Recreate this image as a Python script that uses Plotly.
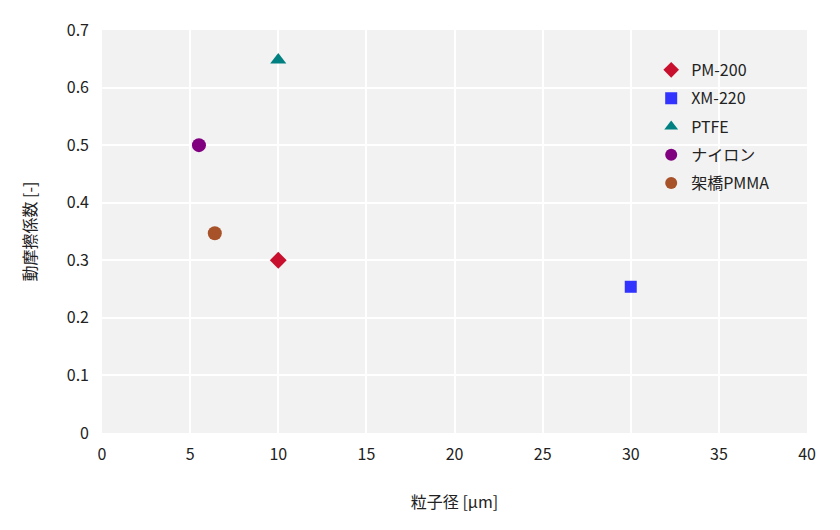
import plotly.graph_objects as go

names = ["PM-200", "XM-220", "PTFE", "ナイロン", "架橋PMMA"]
x_vals = [10, 30, 10, 5.5, 6.4]
y_vals = [0.3, 0.254, 0.648, 0.5, 0.347]
symbols = ["diamond", "square", "triangle-up", "circle", "circle"]
colors = ["#C8102E", "#3333FF", "#008080", "#800080", "#A8522A"]
sizes = [13, 12, 14, 14, 14]

fig = go.Figure()
for n, x, y, s, c, sz in zip(names, x_vals, y_vals, symbols, colors, sizes):
    fig.add_trace(go.Scatter(x=[x], y=[y], mode="markers", name=n, legendgroup=n,
                             marker=dict(symbol=s, color=c, size=sz, line=dict(width=0))))

font = "Noto Sans CJK JP, Noto Sans, sans-serif"
fig.update_layout(
    width=840, height=530,
    margin=dict(l=102, r=33, t=30, b=97),
    paper_bgcolor="white", plot_bgcolor="#f2f2f2",
    font=dict(family=font, size=16, color="#222"),
    xaxis=dict(range=[0, 40], dtick=5, showgrid=True, gridcolor="white", gridwidth=2,
               zeroline=False, ticks="", ticklabelstandoff=10,
               title=dict(text="粒子径 [μm]", standoff=32, font=dict(size=16))),
    yaxis=dict(range=[0, 0.7], dtick=0.1, showgrid=True, gridcolor="white", gridwidth=2,
               zeroline=False, ticks="", tickformat="~g", ticklabelstandoff=12,
               title=dict(text="動摩擦係数 [-]", standoff=26, font=dict(size=16))),
    legend=dict(x=0.779, y=0.943, xanchor="left", yanchor="top", bgcolor="rgba(0,0,0,0)",
                font=dict(size=16), itemsizing="constant", tracegroupgap=4.5),
    showlegend=True,
)
fig.write_html("out.html")
